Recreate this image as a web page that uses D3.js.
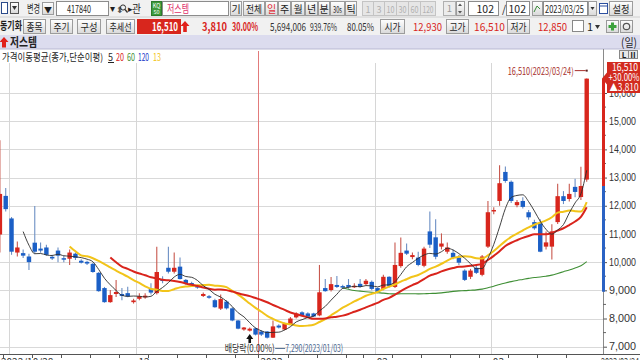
<!DOCTYPE html>
<html><head><meta charset="utf-8">
<script src="https://cdn.jsdelivr.net/npm/d3@7"></script>
<style>
html,body{margin:0;padding:0;background:#fff;overflow:hidden}
svg{display:block;font-family:"Noto Sans CJK KR","Noto Sans",sans-serif}
</style></head><body>
<svg id="c" width="640" height="360"></svg>
<script>
// ---- data (daily candles, 2022/10/28 .. 2023/03/24) ----
const opens  = [10980,12350,11550,10340,10320,10200,10690,10480,10520,10190,10410,10140,10120,10300,10050,10010,9940,9620,9080,8580,8870,8870,8900,8580,8700,8750,9060,8900,9400,9800,9660,9840,9370,9260,9150,8800,8790,8650,8350,8600,8360,7930,7610,7570,7650,7540,7540,7320,7750,7610,7790,8040,8220,8180,8180,8110,9080,9010,9190,9150,9190,9120,9230,9220,9300,9080,9050,9480,9120,9860,10410,10180,10160,9870,11090,10880,10550,10370,10330,10160,9700,9480,9800,9550,10550,11800,12170,13200,12850,12020,12170,11770,11420,11380,10550,10550,11420,12340,12240,12670,12310,12930];
const highs  = [14320,12630,11600,10730,10450,10300,11990,10700,10620,10260,10520,10230,10450,10340,10100,10050,9980,9650,9120,9010,9370,9080,9130,8700,8900,8900,9250,10550,9500,10550,10340,10160,9400,9300,9200,8920,8830,8700,8850,8650,8400,7950,7700,7680,7680,7580,7560,7930,7800,7850,8050,8220,8260,8220,8200,9900,9400,9470,9510,9200,9400,9250,9400,9400,9350,9100,9550,9500,10700,10870,10660,10340,10370,10550,11800,11520,11020,10700,10450,10250,9750,9760,9900,10250,12170,11950,13440,13390,12900,12200,12300,11850,11500,11520,11090,11340,12780,12520,12780,12960,13380,16510];
const lows   = [10340,11800,10260,10200,10150,9720,10300,10330,10230,10080,10000,10000,9900,10080,9950,9900,9620,8950,8560,8560,8760,8650,8750,8530,8650,8700,8850,8850,9250,9600,9600,9380,9200,9150,9060,8760,8700,8380,8300,8320,7900,7620,7570,7540,7400,7380,7290,7310,7650,7580,7760,8000,8080,8050,8050,8080,8950,8960,9080,9060,9060,9080,9100,9180,9000,8900,9000,9100,9080,9800,10250,10100,9850,9820,10500,10100,10450,10300,10100,9900,9330,9400,9580,9500,10500,11700,12000,12820,12100,11950,11900,11500,11150,10350,10450,10090,11350,12060,12150,12300,12200,12850];
const closes = [12420,11880,10370,10520,10230,10000,10370,10410,10260,10130,10230,10100,10340,10150,9980,9950,9650,8970,8580,8830,8940,8800,8780,8640,8790,8810,8920,9650,9330,9660,9800,9400,9260,9190,9100,8870,8740,8400,8690,8360,7930,7640,7680,7640,7430,7430,7320,7720,7680,7820,8000,8180,8110,8070,8070,8930,8970,9220,9120,9100,9120,9160,9120,9340,9050,8940,9480,9160,9900,10330,10300,10250,9900,10480,10620,10190,10660,10520,10160,9980,9370,9700,9620,10200,11770,11850,12800,12880,12170,12130,11960,11590,11200,10370,10700,11090,12340,12170,12420,12490,12700,16510];

const maPeriods = [5, 20, 60, 120, 13];
const maColors  = ["#2b2b2b", "#d9241c", "#3f8f35", "#2038c8", "#f2c41a"];
const maWidths  = [0.9, 2, 1.1, 1.1, 2];

const monthStartIdx = [0, 24, 45, 65, 85];
const monthLabels   = ["2022/10/28", "12", "2023", "02", "03"];
const gridMonthIdx  = [2, 24, 65, 85];
const yearLineIdx   = 45;
const weekStartIdx  = [1,6,11,16,21,26,31,36,41,45,50,55,60,63,68,73,78,83,88,93,98];
const yTicks = [7000,8000,9000,10000,11000,12000,13000,14000,15000,16000];
const yMinor = [7500,8500,9500,10500,11500,12500,13500,14500,15500];

const lastPrice = 16510, prevClose = 12700, change = 3810, changePct = "30.00%";
const highLabel = "16,510(2023/03/24)";
const lowLabel  = "7,290(2023/01/03)";
const lowIdx = 46, highIdx = 101, exDivIdx = 43;
const axisBlueLow = 8950;

// ---- setup ----
const svg = d3.select("#c");
const defs = svg.append("defs");
const g1 = defs.append("linearGradient").attr("id","btn").attr("x1",0).attr("y1",0).attr("x2",0).attr("y2",1);
g1.append("stop").attr("offset","0").attr("stop-color","#ffffff");
g1.append("stop").attr("offset","1").attr("stop-color","#d9d9d9");
defs.append("clipPath").attr("id","plot").append("rect").attr("x",0).attr("y",49).attr("width",603).attr("height",305);

const x = d3.scaleBand().domain(d3.range(closes.length)).range([-3.0, -3.0 + 5.81*closes.length]).paddingInner(0.24).paddingOuter(0.12);
const cx = i => x(i) + x.bandwidth()/2;
const bx = i => x(i) - x.step()*0.12;
const y = d3.scaleLinear().domain([7000, 16000]).range([346.7, 93]);

function T(px, py, s, o = {}) {
  const e = svg.append("text").attr("x", px).attr("y", py).text(s)
    .attr("font-size", o.size || 11).attr("fill", o.fill || "#1e1e1e")
    .attr("text-anchor", o.anchor || "start");
  if (o.weight) e.attr("font-weight", o.weight);
  if (o.w) e.attr("textLength", o.w).attr("lengthAdjust", "spacingAndGlyphs");
  if (o.family) e.attr("font-family", o.family);
  return e;
}
function R(px, py, w, h, fill, stroke, sw) {
  return svg.append("rect").attr("x", px).attr("y", py).attr("width", w).attr("height", h)
    .attr("fill", fill).attr("stroke", stroke || "none").attr("stroke-width", sw || 1);
}
function B(px, py, w, h, label, o = {}) {
  R(px + .5, py + .5, w, h, o.bg || "url(#btn)", o.border || "#9c9c9c");
  if (label) T(px + w/2 + .5, py + h/2 + 4.5, label, Object.assign({anchor: "middle"}, o));
}

// ---- header rows ----
R(0, 0, 640, 17, "#f1f1f1");
R(0, 17, 640, 18, "#f1f1f1");
svg.append("line").attr("x1",0).attr("x2",640).attr("y1",17).attr("y2",17).attr("stroke","#d0d0d0");
// row 1
R(1.5, 2.5, 6, 11, "#fff", "#2a4a8a");
R(10.5, 2.5, 8, 11, "url(#btn)", "#555");
svg.append("path").attr("d","M12 6 L17 6 L14.5 10 Z").attr("fill","#333");
T(27, 12.5, "변경", {w: 13});
B(42, 2, 11, 12, "▼", {size: 8});
R(56.5, 1.5, 52, 14, "#fff", "#8c8c8c");
T(67, 12.5, "417840", {w: 24, size: 10.5});
T(110, 12, "▾", {size: 10});
T(116, 12.5, "⬍", {size: 9, fill: "#555"});
svg.append("circle").attr("cx",123).attr("cy",7.5).attr("r",2.6).attr("fill","none").attr("stroke","#333");
svg.append("line").attr("x1",125).attr("y1",9.5).attr("x2",127.5).attr("y2",12.5).attr("stroke","#333").attr("stroke-width",1.3);
T(128, 12, "▸", {size: 9});
T(132, 12.5, "관", {w: 9});
R(151.5, 1.5, 10, 14, "#3e9a3a", "#2c7a2c");
T(156.5, 8, "KQ", {size: 5.5, fill: "#fff", anchor: "middle"});
T(156.5, 14, "50", {size: 5.5, fill: "#fff", anchor: "middle"});
R(162.5, 1.5, 66, 14, "#fff", "#8c8c8c");
T(167, 12.5, "저스템", {fill: "#e0306a", w: 22});
const periodBtns = [["기",230,11],["전체",243,21],["일",265,12],["주",278,12],["월",291,13],["년",305,12],["분",318,11],["30s",330,14],["틱",345,11]];
periodBtns.forEach(([s, px, w]) => B(px, 1, w, 14, s, {fill: s === "일" ? "#e0303a" : "#222", size: s === "30s" ? 9 : 10, w: s.length > 1 ? w - 5 : undefined}));
const minBtns = [["1",362,11],["3",373,11],["10",384,12],["30",396,12],["60",408,12],["120",420,15]];
minBtns.forEach(([s, px, w]) => B(px, 1, w, 14, s, {fill: "#b0b0b0", bg: "#e6e6e6", border: "#c4c4c4", size: 9, w: s.length > 1 ? w - 4 : undefined}));
R(443.5, 1.5, 12, 14, "#ececec", "#b0b0b0"); T(449.5, 12, "1", {anchor: "middle", size: 9.5, fill: "#999"});
B(456, 1, 8, 14, "", {});
svg.append("path").attr("d","M458 6 L462 6 L460 3.5 Z M458 11 L462 11 L460 13.5 Z").attr("fill","#555");
R(468.5, 1.5, 30, 14, "#fff", "#8c8c8c"); T(494, 12.5, "102", {anchor: "end", size: 10.5});
T(502, 12.5, "/", {size: 10.5});
R(506.5, 1.5, 23, 14, "#fff", "#8c8c8c"); T(526, 12.5, "102", {anchor: "end", size: 10.5});
B(532, 1, 10, 14, "", {}); svg.append("path").attr("d","M534 12 L537 6 L540 9").attr("stroke","#3a8a3a").attr("fill","none");
R(543.5, 1.5, 44, 14, "#fff", "#8c8c8c"); T(545, 12.5, "2023/03/25", {size: 10, w: 39});
R(588.5, 1.5, 8, 14, "url(#btn)", "#9c9c9c");
svg.append("path").attr("d","M590.5 7 L594.5 7 L592.5 10 Z").attr("fill","#333");
R(599.5, 3.5, 8, 10, "#fff", "#2c4fa0");
svg.append("line").attr("x1",600).attr("x2",607).attr("y1",6).attr("y2",6).attr("stroke","#2c4fa0");
B(609, 1, 23, 14, "설정", {size: 10, w: 17});
// row 2
T(0, 30, "동기화", {w: 22, weight: "bold"});
[["종목",23,22],["주기",50,22],["구성",77,23],["추세선",106,28]].forEach(([s, px, w]) => B(px, 19, w, 14, s, {size: 10.5, w: w - 6}));
R(137, 19, 44, 15, "#d8261d");
T(178, 31, "16,510", {fill: "#fff", anchor: "end", weight: "bold", w: 26, size: 11.5});
svg.append("path").attr("d","M185 21 L189.5 26 L186.8 26 L186.8 32 L183.2 32 L183.2 26 L180.5 26 Z").attr("fill","#e0201a");
T(202, 31, "3,810", {fill: "#d8261d", weight: "bold", w: 25, size: 11.5});
T(232, 31, "30.00%", {fill: "#d8261d", weight: "bold", w: 26, size: 11.5});
T(270, 31, "5,694,006", {fill: "#333", w: 36, size: 11});
T(310, 31, "939.76%", {fill: "#333", w: 27, size: 11});
T(347, 31, "80.05%", {fill: "#333", w: 27, size: 11});
B(380, 19, 24, 14, "시가", {size: 10.5, w: 16});
T(442, 31, "12,930", {fill: "#d8261d", anchor: "end", w: 29, size: 11});
B(446, 19, 22, 14, "고가", {size: 10.5, w: 16});
T(505, 31, "16,510", {fill: "#d8261d", anchor: "end", w: 31, size: 11});
B(507, 19, 22, 14, "저가", {size: 10.5, w: 16});
T(567, 31, "12,850", {fill: "#d8261d", anchor: "end", w: 29, size: 11});
R(572.5, 20.5, 11, 11, "#fff", "#888");
T(587, 31, "1", {size: 11});
svg.append("path").attr("d","M595 25 L600 25 L597.5 29 Z").attr("fill","#333");
R(606.5, 20.5, 12, 12, "url(#btn)", "#999");
svg.append("path").attr("d","M612.5 22.5 V30.5 M608.5 26.5 H616.5").attr("stroke","#3ca23c").attr("stroke-width",3);
R(620.5, 20.5, 12, 12, "url(#btn)", "#999");
svg.append("circle").attr("cx",626.5).attr("cy",26.5).attr("r",3.2).attr("fill","none").attr("stroke","#555").attr("stroke-width",1.2);
// row 3
R(0, 35, 640, 14, "#dcdcee");
svg.append("line").attr("x1",0).attr("x2",640).attr("y1",49).attr("y2",49).attr("stroke","#b9b9d2");
svg.append("path").attr("d","M4 37 L8.5 42 L6 42 L6 47.5 L2 47.5 L2 42 L-0.5 42 Z").attr("fill","#e0201a");
T(10, 47, "저스템", {size: 12.5, weight: "bold", fill: "#222", w: 27});
T(637, 47, "(일)", {anchor: "end", size: 11.5, w: 16});

// ---- plot grid ----
const plot = svg.append("g").attr("clip-path", "url(#plot)");
plot.selectAll(".hg").data(yTicks).join("line")
  .attr("x1", 0).attr("x2", 603).attr("y1", d => Math.round(y(d)) + .5).attr("y2", d => Math.round(y(d)) + .5)
  .attr("stroke", "#d9d9d9");
plot.selectAll(".vg").data(gridMonthIdx).join("line")
  .attr("x1", d => Math.round(bx(d)) + .5).attr("x2", d => Math.round(bx(d)) + .5)
  .attr("y1", 63).attr("y2", 354).attr("stroke", "#d6d6d6");
plot.append("line").attr("x1", Math.round(bx(yearLineIdx)) + .5).attr("x2", Math.round(bx(yearLineIdx)) + .5)
  .attr("y1", 51).attr("y2", 354).attr("stroke", "#e27b7b");

// legend
T(2, 61, "가격이동평균(종가,단순이평)", {size: 10, w: 101, fill: "#222"});
const legX = [108, 116, 127, 138, 153];
const legW = [5, 8, 8, 11, 8];
maPeriods.forEach((p, k) => T(legX[k], 61, String(p), {size: 10, fill: maColors[k], w: legW[k]}));
svg.append("line").attr("x1",108).attr("x2",114).attr("y1",62.5).attr("y2",62.5).attr("stroke","#222");

// ---- candles ----
const idx = d3.range(closes.length);
const up = i => closes[i] >= opens[i];
plot.selectAll(".wick").data(idx).join("line")
  .attr("x1", i => cx(i)).attr("x2", i => cx(i))
  .attr("y1", i => y(highs[i])).attr("y2", i => y(lows[i]))
  .attr("stroke", i => up(i) ? "#c8584e" : "#6c8fc4").attr("stroke-width", 1.1);
plot.selectAll(".body").data(idx).join("rect")
  .attr("x", i => x(i)).attr("width", x.bandwidth())
  .attr("y", i => y(Math.max(opens[i], closes[i])))
  .attr("height", i => Math.max(1.5, Math.abs(y(opens[i]) - y(closes[i]))))
  .attr("fill", i => up(i) ? "#d8261d" : "#1b5fc6");

// ---- moving averages ----
function sma(p) {
  const out = [];
  for (let i = p - 1; i < closes.length; i++) out.push({i, v: d3.mean(closes.slice(i - p + 1, i + 1))});
  return out;
}
const line = d3.line().x(d => cx(d.i)).y(d => y(d.v)).curve(d3.curveMonotoneX);
[2, 4, 1, 0, 3].forEach(k => {
  const s = sma(maPeriods[k]);
  if (s.length > 1) plot.append("path").attr("d", line(s)).attr("fill", "none")
    .attr("stroke", maColors[k]).attr("stroke-width", maWidths[k]).attr("stroke-linejoin", "round");
});

// ---- annotations ----
const hx = cx(highIdx), hy = y(highs[highIdx]);
T(hx - 13, hy - 4, highLabel, {size: 10, fill: "#a8302c", anchor: "end", w: 66});
svg.append("line").attr("x1", hx - 12).attr("x2", hx - 1).attr("y1", hy - 8).attr("y2", hy - 8).attr("stroke", "#a8302c");
svg.append("rect").attr("x", hx - 1).attr("y", hy - 9).attr("width", 2).attr("height", 2).attr("fill", "#5a2020");

const ex = cx(exDivIdx);
svg.append("path").attr("d", `M${ex} 334 L${ex + 3.5} 339 L${ex + 1.3} 339 L${ex + 1.3} 343 L${ex - 1.3} 343 L${ex - 1.3} 339 L${ex - 3.5} 339 Z`).attr("fill", "#111");
T(ex - 25, 352, "배당락(0.00%)", {size: 10.5, fill: "#333", w: 50});
const lx = cx(lowIdx);
svg.append("line").attr("x1", lx + 8).attr("x2", lx + 18).attr("y1", 348.5).attr("y2", 348.5).attr("stroke", "#5c7698");
T(lx + 18, 352, lowLabel, {size: 10.5, fill: "#4e6a92", w: 58});

// ---- x axis ----
svg.append("line").attr("x1", 0).attr("x2", 640).attr("y1", 354.5).attr("y2", 354.5).attr("stroke", "#555");
svg.selectAll(".wt").data(weekStartIdx).join("line")
  .attr("x1", d => Math.round(bx(d)) + .5).attr("x2", d => Math.round(bx(d)) + .5)
  .attr("y1", 355).attr("y2", 358).attr("stroke", "#555");
monthStartIdx.forEach((d, k) => T(k === 0 ? 1 : bx(d) + 2, 366, monthLabels[k], {size: 10, fill: "#333"}));
T(601, 366, "2023/03/24", {size: 10, fill: "#333", w: 38});

// ---- y axis ----
const ax = svg.append("g").attr("transform", "translate(603,0)")
  .call(d3.axisRight(y).tickValues(yTicks).tickSize(4).tickFormat(d3.format(",")));
ax.select(".domain").attr("stroke", "#8a8a8a").attr("d", "M0.5,49V354");
ax.selectAll(".tick line").attr("stroke", "#555").attr("x1", 0.5).attr("x2", 4);
ax.selectAll(".tick text").attr("x", 6).attr("font-size", 10).attr("fill", "#333")
  .attr("font-family", "Liberation Sans, Arial, sans-serif")
  .attr("textLength", 27).attr("lengthAdjust", "spacingAndGlyphs");
svg.selectAll(".ym").data(yMinor).join("line")
  .attr("x1", 603).attr("x2", 606).attr("y1", d => y(d)).attr("y2", d => y(d)).attr("stroke", "#666");
// price range bar on axis
svg.append("line").attr("x1", 603.5).attr("x2", 603.5).attr("y1", y(lastPrice)).attr("y2", y(prevClose)).attr("stroke", "#d8261d").attr("stroke-width", 3);
svg.append("line").attr("x1", 603.5).attr("x2", 603.5).attr("y1", y(prevClose)).attr("y2", y(axisBlueLow)).attr("stroke", "#2a62c4").attr("stroke-width", 3);

// current price tag
const py = y(lastPrice);
svg.append("path").attr("d", `M602 ${py} L607 ${py - 6} L607 62 L640 62 L640 93 L607 93 L607 ${py + 6} Z`).attr("fill", "#d22a1f");
T(625, 71, d3.format(",")(lastPrice), {size: 10, fill: "#fff", anchor: "middle", w: 26});
T(624, 81, "+" + changePct, {size: 10, fill: "#fff", anchor: "middle", w: 31});
T(624, 91, "▲" + d3.format(",")(change), {size: 10, fill: "#fff", anchor: "middle", w: 29});
// small icons above tag
R(619.5, 50.5, 9, 8, "#e8e8e8", "#888"); R(628.5, 50.5, 9, 8, "#e8e8e8", "#888");
T(624, 58, "L", {size: 8, anchor: "middle", weight: "bold"}); T(633, 58, "Ⅱ", {size: 8, anchor: "middle", weight: "bold"});
</script>
</body></html>
